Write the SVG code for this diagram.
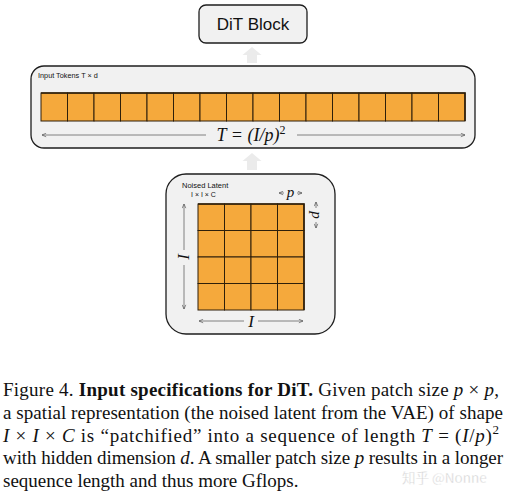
<svg xmlns="http://www.w3.org/2000/svg" width="508" height="496" viewBox="0 0 508 496">
<defs>
<style>
.panel{fill:#f1f1f1;stroke:#1e1e1e;stroke-width:1.3}
.cell{fill:#f5a93c;stroke:#2e1f0a;stroke-width:1}
.fade{fill:#ebebeb}
.dim{stroke:#666;stroke-width:0.8;fill:none}
.sans{font-family:"Liberation Sans",Arial,sans-serif;fill:#111}
.math{font-family:"Liberation Serif","Times New Roman",serif;font-style:italic;fill:#111}
.cap{font-family:"Liberation Serif","Times New Roman",serif;font-size:19px;fill:#111}
.it{font-style:italic}
.b{font-weight:bold}
</style>
<marker id="ah" viewBox="0 0 6 6" refX="5.5" refY="3" markerWidth="5" markerHeight="5" orient="auto-start-reverse" markerUnits="userSpaceOnUse">
<path d="M0.5,0.8 L5.5,3 L0.5,5.2" fill="none" stroke="#555" stroke-width="0.8"/>
</marker>
</defs>
<rect width="508" height="496" fill="#ffffff"/>

<g id="connectors">
<path class="fade" d="M252,47 L261.5,55 L257,55 L257,63 L247,63 L247,55 L242.5,55 Z"/>
<path class="fade" d="M252,153 L261.5,161 L257,161 L257,170 L247,170 L247,161 L242.5,161 Z"/>
</g>

<g id="dit-block">
<rect x="199" y="5" width="108" height="38" rx="7" fill="#f1f1f1" stroke="#1e1e1e" stroke-width="1.3"/>
<text class="sans" x="253" y="30" font-size="17" text-anchor="middle">DiT Block</text>
</g>

<g id="input-tokens">
<rect class="panel" x="31" y="66" width="444" height="82" rx="13"/>
<text class="sans" x="38" y="78" font-size="7.3">Input Tokens T × d</text>
<g>
<rect class="cell" x="41" y="93" width="26.5" height="28"/>
<rect class="cell" x="67.5" y="93" width="26.5" height="28"/>
<rect class="cell" x="94" y="93" width="26.5" height="28"/>
<rect class="cell" x="120.5" y="93" width="26.5" height="28"/>
<rect class="cell" x="147" y="93" width="26.5" height="28"/>
<rect class="cell" x="173.5" y="93" width="26.5" height="28"/>
<rect class="cell" x="200" y="93" width="26.5" height="28"/>
<rect class="cell" x="226.5" y="93" width="26.5" height="28"/>
<rect class="cell" x="253" y="93" width="26.5" height="28"/>
<rect class="cell" x="279.5" y="93" width="26.5" height="28"/>
<rect class="cell" x="306" y="93" width="26.5" height="28"/>
<rect class="cell" x="332.5" y="93" width="26.5" height="28"/>
<rect class="cell" x="359" y="93" width="26.5" height="28"/>
<rect class="cell" x="385.5" y="93" width="26.5" height="28"/>
<rect class="cell" x="412" y="93" width="26.5" height="28"/>
<rect class="cell" x="438.5" y="93" width="26.5" height="28"/>
<path d="M41,93 L465,93 L465,121" fill="none" stroke="#2e1f0a" stroke-width="1.6"/>
</g>
<line class="dim" x1="42" y1="135" x2="206" y2="135" marker-start="url(#ah)"/>
<line class="dim" x1="297" y1="135" x2="465" y2="135" marker-end="url(#ah)"/>
<text class="math" x="251" y="141" font-size="18" text-anchor="middle">T = (I/p)<tspan font-size="12" dy="-7" font-style="normal">2</tspan></text>
</g>

<g id="noised-latent">
<rect class="panel" x="166" y="174" width="169" height="160" rx="20"/>
<text class="sans" x="182" y="188" font-size="7.5">Noised Latent</text>
<text class="sans" x="191" y="196.5" font-size="7">I × I × C</text>
<g>
<rect class="cell" x="198" y="204" width="26.5" height="26.5"/>
<rect class="cell" x="224.5" y="204" width="26.5" height="26.5"/>
<rect class="cell" x="251" y="204" width="26.5" height="26.5"/>
<rect class="cell" x="277.5" y="204" width="26.5" height="26.5"/>
<rect class="cell" x="198" y="230.5" width="26.5" height="26.5"/>
<rect class="cell" x="224.5" y="230.5" width="26.5" height="26.5"/>
<rect class="cell" x="251" y="230.5" width="26.5" height="26.5"/>
<rect class="cell" x="277.5" y="230.5" width="26.5" height="26.5"/>
<rect class="cell" x="198" y="257" width="26.5" height="26.5"/>
<rect class="cell" x="224.5" y="257" width="26.5" height="26.5"/>
<rect class="cell" x="251" y="257" width="26.5" height="26.5"/>
<rect class="cell" x="277.5" y="257" width="26.5" height="26.5"/>
<rect class="cell" x="198" y="283.5" width="26.5" height="26.5"/>
<rect class="cell" x="224.5" y="283.5" width="26.5" height="26.5"/>
<rect class="cell" x="251" y="283.5" width="26.5" height="26.5"/>
<rect class="cell" x="277.5" y="283.5" width="26.5" height="26.5"/>
<path d="M198,204 L304,204 L304,310" fill="none" stroke="#2e1f0a" stroke-width="1.6"/>
</g>
<line class="dim" x1="184" y1="250" x2="184" y2="204" marker-end="url(#ah)"/>
<line class="dim" x1="184" y1="265" x2="184" y2="309" marker-end="url(#ah)"/>
<text class="math" transform="translate(189,257) rotate(-90)" font-size="17" text-anchor="middle">I</text>
<line class="dim" x1="244" y1="321" x2="199" y2="321" marker-end="url(#ah)"/>
<line class="dim" x1="258" y1="321" x2="303" y2="321" marker-end="url(#ah)"/>
<text class="math" x="251" y="327" font-size="17" text-anchor="middle">I</text>
<line class="dim" x1="284" y1="193" x2="279" y2="193" marker-end="url(#ah)"/>
<line class="dim" x1="297" y1="193" x2="302" y2="193" marker-end="url(#ah)"/>
<text class="math" x="290.5" y="197" font-size="15" text-anchor="middle">p</text>
<line class="dim" x1="316" y1="208" x2="316" y2="202" marker-end="url(#ah)"/>
<line class="dim" x1="316" y1="222" x2="316" y2="228" marker-end="url(#ah)"/>
<text class="math" transform="translate(311.5,215) rotate(90)" font-size="15" text-anchor="middle">p</text>
</g>

<g id="caption">
<text class="cap" x="3" y="396" textLength="496" lengthAdjust="spacing">Figure 4.  <tspan class="b">Input specifications for DiT.</tspan> Given patch size <tspan class="it">p</tspan> × <tspan class="it">p</tspan>,</text>
<text class="cap" x="3" y="418.5" textLength="500" lengthAdjust="spacing">a spatial representation (the noised latent from the VAE) of shape</text>
<text class="cap" x="3" y="441.5" textLength="496" lengthAdjust="spacing"><tspan class="it">I</tspan> × <tspan class="it">I</tspan> × <tspan class="it">C</tspan> is “patchified” into a sequence of length <tspan class="it">T</tspan> = (<tspan class="it">I</tspan>/<tspan class="it">p</tspan>)<tspan font-size="13" dy="-8">2</tspan></text>
<text class="cap" x="3" y="464" textLength="500" lengthAdjust="spacing">with hidden dimension <tspan class="it">d</tspan>. A smaller patch size <tspan class="it">p</tspan> results in a longer</text>
<text class="cap" x="3" y="487">sequence length and thus more Gflops.</text>
</g>

<g id="watermark">
<text x="402" y="483" font-family="'Noto Sans CJK SC','Liberation Sans',sans-serif" font-size="13.5" fill="#c9c9c9" stroke="#ffffff" stroke-width="0.4" opacity="0.9">知乎 @Nonne</text>
</g>
</svg>
